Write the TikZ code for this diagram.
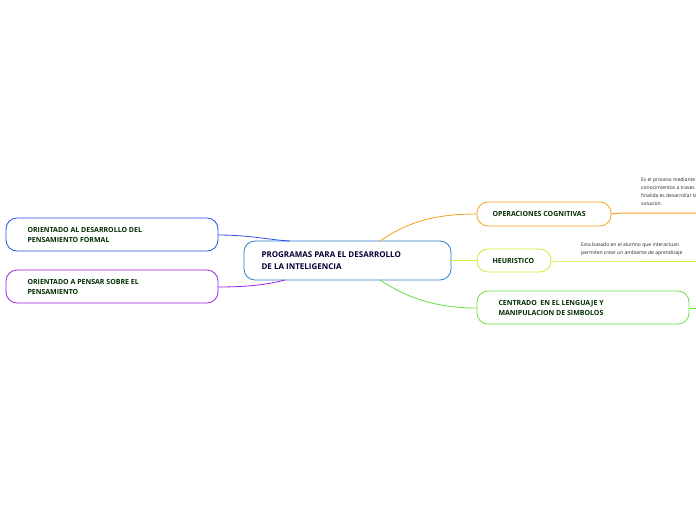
\documentclass[tikz,border=0pt]{standalone}
\usepackage{fontspec}
\setmainfont{Open Sans}
\begin{document}
\begin{tikzpicture}[x=1pt,y=-1pt,
 box/.style={draw,rounded corners=11pt,line width=0.8pt,anchor=north west,inner sep=0pt},
 lbl/.style={anchor=west,align=left,font=\fontsize{7}{10}\selectfont\bfseries,text=black!70!green!60!black},
 desc/.style={anchor=north west,align=left,font=\fontsize{5}{8}\selectfont,text=black!85,inner sep=0pt}]
\useasboundingbox (0,0) rectangle (696,520);
\definecolor{cblue}{HTML}{2E7BCF}\definecolor{cblue2}{HTML}{2650E0}
\definecolor{cpur}{HTML}{A020E0}\definecolor{corg}{HTML}{F5A020}
\definecolor{cyel}{HTML}{C8EE30}\definecolor{cgrn}{HTML}{66E040}
% boxes
\draw[box,cblue] (244,241) rectangle (451,280);
\node[lbl,text=black!80!blue,font=\fontsize{8}{12}\selectfont\bfseries] (c) at (258,260.5) {PROGRAMAS PARA EL DESARROLLO\\DE LA INTELIGENCIA};
\draw[box,cblue2] (6,218) rectangle (218,251);
\node[lbl] (l1) at (24,234.5) {ORIENTADO AL DESARROLLO DEL\\PENSAMIENTO FORMAL};
\draw[box,cpur] (6,270) rectangle (218,303);
\node[lbl] (l2) at (24,286.5) {ORIENTADO A PENSAR SOBRE EL\\PENSAMIENTO};
\draw[box,corg] (477,202) rectangle (611,226);
\node[lbl] (o) at (489,214) {OPERACIONES COGNITIVAS};
\draw[box,cyel] (477,249) rectangle (551,272);
\node[lbl] (h) at (489,260.5) {HEURISTICO};
\draw[box,cgrn] (477,291) rectangle (689,324);
\node[lbl] (g) at (495,307.5) {CENTRADO\ \ EN EL LENGUAJE Y\\MANIPULACION DE SIMBOLOS};
% connectors
\coordinate (ct) at (380,241); \coordinate (cb) at (380,280);
\draw[corg,line width=0.8pt] (ct) .. controls (410,220) and (440,214) .. (477,214);
\draw[cyel,line width=0.8pt] (451,260.5) -- (477,260.5);
\draw[cgrn,line width=0.8pt] (cb) .. controls (410,300) and (440,308) .. (477,308);
\draw[cblue2,line width=0.8pt] (218,235) .. controls (250,235) and (270,240) .. (290,241);
\draw[cpur,line width=0.8pt] (218,287) .. controls (250,287) and (270,284) .. (285,280);
\draw[cgrn,line width=0.6pt] (689,308) -- (696,308);
% descriptions
\draw[corg,line width=1pt] (611,214) .. controls (620,213) .. (640,213) -- (700,213);
\node[desc] (d1) at (641,177) {Es el proceso mediante el cual\\conocimientos a traves de\\finalida es desarrollar la\\solucion.};
\draw[cyel,line width=1pt] (551,261) .. controls (565,261) .. (580,261) -- (700,261);
\node[desc] (d2) at (581,242) {Esta basado en el alumno que interactuan\\permiten crear un ambiente de aprendizaje};
\end{tikzpicture}
\end{document}
